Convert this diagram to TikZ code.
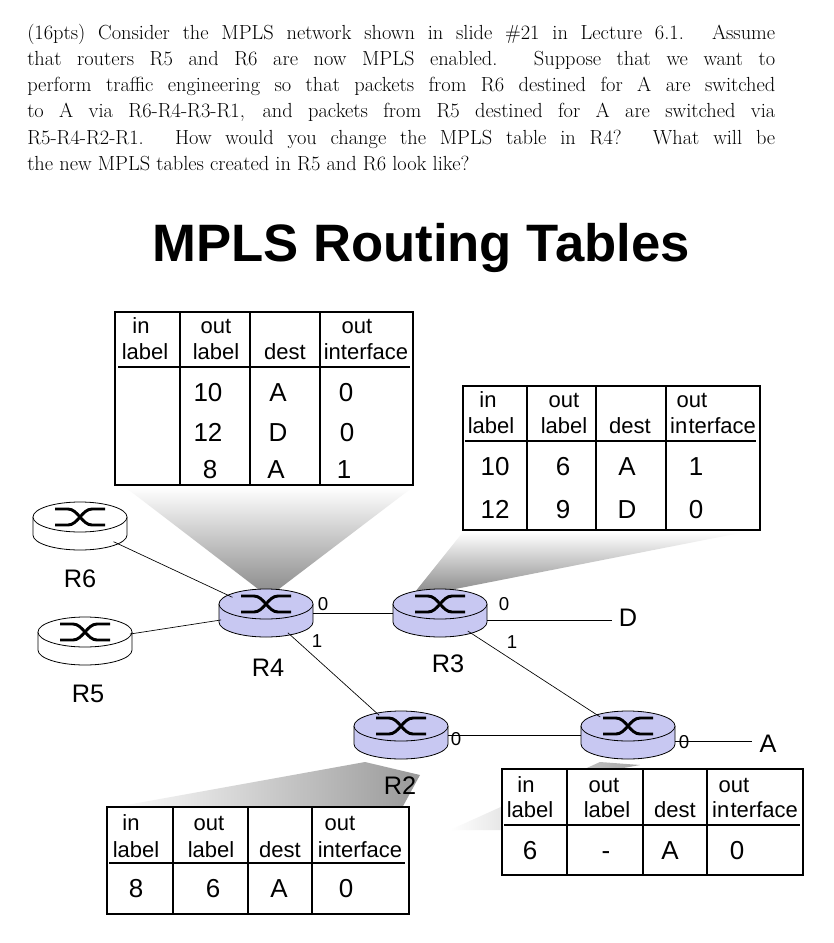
\documentclass[tikz,border=0pt]{standalone}
\usepackage{fontspec}
\newfontfamily\arialf{Liberation Sans}
\usetikzlibrary{shapes.geometric}
\definecolor{rblue}{HTML}{C8C8F2}
\begin{document}
\begin{tikzpicture}[x=0.75pt,y=-0.75pt,
  hd/.style={font=\arialf\fontsize{16.5}{18}\selectfont,inner sep=0pt,anchor=base},
  dt/.style={font=\arialf\fontsize{19.5}{21}\selectfont,inner sep=0pt,anchor=base},
  lb/.style={font=\arialf\fontsize{19}{21}\selectfont,inner sep=0pt,anchor=base},
  pt/.style={font=\arialf\fontsize{14}{16}\selectfont,inner sep=0pt,anchor=base},
  tb/.style={line width=0.8pt},
  link/.style={line width=0.5pt},
  rnode/.style={ellipse,minimum width=70.5pt,minimum height=33pt,inner sep=0pt,draw=none},
  pics/router/.style={code={
    \fill[#1] (-47,0) -- (-47,18) arc[start angle=180,end angle=0,x radius=47,y radius=15] -- (47,0) arc[start angle=0,end angle=-180,x radius=47,y radius=15];
    \draw[line width=0.6pt] (-47,0) -- (-47,18) arc[start angle=180,end angle=0,x radius=47,y radius=15] -- (47,0);
    \draw[line width=0.6pt,fill=#1] (0,0) ellipse[x radius=47,y radius=15];
    \draw[line width=2.2pt] (-25,-8) -- (-12,-8) .. controls (-2,-8) and (2,8) .. (12,8) -- (25,8);
    \draw[line width=2.2pt] (-25,8) -- (-12,8) .. controls (-2,8) and (2,-8) .. (12,-8) -- (25,-8);
  }}]
\useasboundingbox (0,0) rectangle (833,943);
\fill[white] (0,0) rectangle (833,943);

\node[anchor=north west,inner sep=0pt,text width=561pt,align=justify,font=\fontsize{15.3}{19.6}\selectfont] (q) at (27,24)
{(16pts) Consider the MPLS network shown in slide \#21 in Lecture 6.1. Assume\linebreak
that routers R5 and R6 are now MPLS enabled. Suppose that we want to\linebreak
perform traffic engineering so that packets from R6 destined for A are switched\linebreak
to A via R6-R4-R3-R1, and packets from R5 destined for A are switched via\linebreak
R5-R4-R2-R1. How would you change the MPLS table in R4? What will be\linebreak
the new MPLS tables created in R5 and R6 look like?};

\node[font=\arialf\bfseries\fontsize{39.5}{44}\selectfont,inner sep=0pt] (title) at (421,248) {MPLS Routing Tables};

% shadows
\shade[top color=white,bottom color=black!45] (125,487) -- (413,487) -- (275,592) -- (262,592) -- cycle;
\shade[top color=white,bottom color=black!45] (463,532) -- (745,532) -- (450,590) -- (415,592) -- cycle;
\shade[left color=white,right color=black!40] (110,808) -- (402,808) -- (420,775) -- (365,762) -- cycle;
\shade[left color=white,right color=black!35] (450,830) -- (502,830) -- (502,790) -- (640,765) -- (600,762) -- cycle;

% routers
\node[rnode] (r6) at (80,526) {}; \pic at (80,517) {router=white};
\node[rnode] (r5) at (85,641) {}; \pic at (85,632) {router=white};
\node[rnode] (r4) at (266,613) {}; \pic at (266,604) {router=rblue};
\node[rnode] (r3) at (440,613) {}; \pic at (440,604) {router=rblue};
\node[rnode] (r2) at (401,735) {}; \pic at (401,726) {router=rblue};
\node[rnode] (r1) at (628,735) {}; \pic at (628,726) {router=rblue};
\node[lb] (d) at (628,626) {D};
\node[lb] (a) at (768,752) {A};
\coordinate (dl) at (612,620);
\coordinate (al) at (752,741);

% links
\draw[link] (r6) -- (r4);
\draw[link] (r5) -- (r4);
\draw[link] (r4) -- (r3);
\draw[link] (r3.east |- dl) -- (dl);
\draw[link] (r4) -- (r2);
\draw[link] (r3) -- (r1);
\draw[link] (r2) -- (r1);
\draw[link] (r1.east |- al) -- (al);

% labels
\node[lb] (l6) at (80,587) {R6};
\node[lb] (l5) at (88,702) {R5};
\node[lb] (l4) at (268,676) {R4};
\node[lb] (l3) at (448,672) {R3};
\node[lb] (l2) at (400,794) {R2};
\node[pt] (p40) at (323,610) {0};
\node[pt] (p41) at (317,647) {1};
\node[pt] (p30) at (504,610) {0};
\node[pt] (p31) at (512,648) {1};
\node[pt] (p20) at (456,745) {0};
\node[pt] (p10) at (684,748) {0};

% table R4
\fill[white] (115,312) rectangle (413,485);
\draw[tb] (115,312) rectangle (413,485);
\foreach \x in {180,250,320} \draw[tb] (\x,312) -- (\x,485);
\draw[tb] (118,367) -- (410,367);
\node[hd] at (141,333) {in}; \node[hd] at (145,359) {label};
\node[hd] at (216,333) {out}; \node[hd] at (216,359) {label};
\node[hd] at (285,359) {dest};
\node[hd] at (357,333) {out}; \node[hd] at (366,359) {interface};
\node[dt] at (208,401) {10}; \node[dt] at (278,401) {A}; \node[dt] at (346,401) {0};
\node[dt] at (208,441) {12}; \node[dt] at (278,441) {D}; \node[dt] at (347,441) {0};
\node[dt] at (210,478) {8}; \node[dt] at (276,478) {A}; \node[dt] at (344,478) {1};

% table R3
\fill[white] (463,386) rectangle (760,530);
\draw[tb] (463,386) rectangle (760,530);
\foreach \x in {527,596,666} \draw[tb] (\x,386) -- (\x,530);
\draw[tb] (465,441) -- (756,441);
\node[hd] at (488,407) {in}; \node[hd] at (491,433) {label};
\node[hd] at (564,407) {out}; \node[hd] at (564,433) {label};
\node[hd] at (630,433) {dest};
\node[hd] at (692,407) {out}; \node[hd] at (713,433) {in\kern1pt terface};
\node[dt] at (495,475) {10}; \node[dt] at (563,475) {6}; \node[dt] at (627,475) {A}; \node[dt] at (696,475) {1};
\node[dt] at (495,518) {12}; \node[dt] at (563,518) {9}; \node[dt] at (627,518) {D}; \node[dt] at (696,518) {0};

% table R2
\fill[white] (107,807) rectangle (409,914);
\draw[tb] (107,807) rectangle (409,914);
\foreach \x in {173,248,312} \draw[tb] (\x,807) -- (\x,914);
\draw[tb] (109,863) -- (405,863);
\node[hd] at (131,830) {in}; \node[hd] at (136,857) {label};
\node[hd] at (209,830) {out}; \node[hd] at (211,857) {label};
\node[hd] at (280,857) {dest};
\node[hd] at (340,830) {out}; \node[hd] at (360,857) {interface};
\node[dt] at (136,897) {8}; \node[dt] at (213,897) {6}; \node[dt] at (279,897) {A}; \node[dt] at (346,897) {0};

% table R1
\fill[white] (502,769) rectangle (803,875);
\draw[tb] (502,769) rectangle (803,875);
\foreach \x in {567,643,707} \draw[tb] (\x,769) -- (\x,875);
\draw[tb] (504,825) -- (800,825);
\node[hd] at (526,792) {in}; \node[hd] at (530,817) {label};
\node[hd] at (604,792) {out}; \node[hd] at (607,817) {label};
\node[hd] at (675,817) {dest};
\node[hd] at (734,792) {out}; \node[hd] at (755,817) {in\kern1pt terface};
\node[dt] at (530,859) {6}; \node[dt] at (606,859) {-}; \node[dt] at (670,859) {A}; \node[dt] at (737,859) {0};
\end{tikzpicture}
\end{document}
